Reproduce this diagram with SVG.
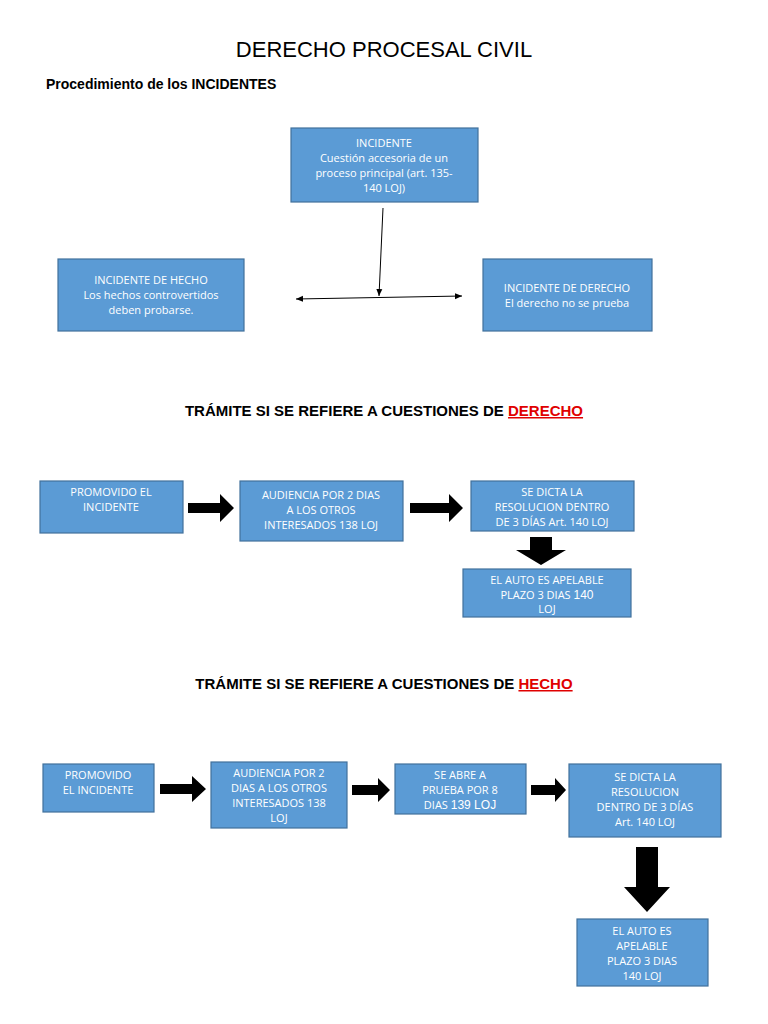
<svg xmlns="http://www.w3.org/2000/svg" width="768" height="1024" viewBox="0 0 768 1024">
<style>
.b{fill:#5b9bd5;stroke:#41719c;stroke-width:1.2}
.t{font-family:"Open Sans","Liberation Sans",sans-serif;font-size:11px;fill:#fff;text-anchor:middle}
.a{font-family:"Liberation Sans",sans-serif;font-size:12px}
.h{font-family:"Liberation Sans",sans-serif;font-size:15px;font-weight:bold;text-anchor:middle}
.ln{stroke:#000;stroke-width:1;fill:none}
.blk{fill:#000}
</style>
<defs><marker id="m" markerWidth="8" markerHeight="8" refX="7" refY="4" orient="auto-start-reverse" markerUnits="userSpaceOnUse"><path d="M0,1 L7,4 L0,7 Z" fill="#000"/></marker></defs>
<rect width="768" height="1024" fill="#fff"/>
<text x="384" y="57" font-family="Liberation Sans,sans-serif" font-size="22" text-anchor="middle">DERECHO PROCESAL CIVIL</text>
<text x="46" y="89" font-family="Liberation Sans,sans-serif" font-size="14" font-weight="bold">Procedimiento de los  INCIDENTES</text>
<g id="n1"><rect class="b" x="291" y="128" width="187" height="74"/><text class="t" x="384" y="147">INCIDENTE</text><text class="t" x="384" y="162">Cuestión accesoria de un</text><text class="t" x="384" y="177">proceso principal (art. 135-</text><text class="t" x="384" y="192">140 LOJ)</text></g>
<g id="n2"><rect class="b" x="58" y="259" width="186" height="72"/><text class="t" x="151" y="284">INCIDENTE DE HECHO</text><text class="t" x="151" y="299">Los hechos controvertidos</text><text class="t" x="151" y="314">deben probarse.</text></g>
<g id="n3"><rect class="b" x="483" y="259" width="169" height="72"/><text class="t" x="567" y="292">INCIDENTE DE DERECHO</text><text class="t" x="567" y="307">El derecho no se prueba</text></g>
<g id="connectors">
<line class="ln" x1="383" y1="208" x2="379" y2="296" marker-end="url(#m)"/>
<line class="ln" x1="296" y1="299" x2="462" y2="296" marker-start="url(#m)" marker-end="url(#m)"/>
<path class="blk" d="M188,503 h32 v-9 l14,14 l-14,14 v-9 h-32 z"/>
<path class="blk" d="M410,503 h39 v-9 l14,14 l-14,14 v-9 h-39 z"/>
<path class="blk" d="M530,537 h22 v13 h14 l-25,15 l-25,-15 h14 z"/>
<path class="blk" d="M160,784 h32 v-8 l14,13 l-14,13 v-8 h-32 z"/>
<path class="blk" d="M352,785 h26 v-7 l12,12 l-12,12 v-7 h-26 z"/>
<path class="blk" d="M531,785 h24 v-7 l11,12 l-11,12 v-7 h-24 z"/>
<path class="blk" d="M636,847 h22 v40 h12 l-23,25 l-23,-25 h12 z"/>
</g>
<text class="h" x="384" y="416">TRÁMITE SI SE REFIERE A CUESTIONES DE <tspan fill="#e00000" text-decoration="underline">DERECHO</tspan></text>
<g id="r1a"><rect class="b" x="40" y="481" width="143" height="52"/><text class="t" x="111" y="496">PROMOVIDO EL</text><text class="t" x="111" y="511">INCIDENTE</text></g>
<g id="r1b"><rect class="b" x="240" y="481" width="163" height="60"/><text class="t" x="321" y="499">AUDIENCIA POR 2 DIAS</text><text class="t" x="321" y="514">A LOS OTROS</text><text class="t" x="321" y="529">INTERESADOS 138 LOJ</text></g>
<g id="r1c"><rect class="b" x="471" y="481" width="163" height="50"/><text class="t" x="552" y="496">SE DICTA LA</text><text class="t" x="552" y="511">RESOLUCION DENTRO</text><text class="t" x="552" y="526">DE 3 DÍAS Art. 140 LOJ</text></g>
<g id="r1d"><rect class="b" x="463" y="569" width="168" height="48"/><text class="t" x="547" y="584">EL AUTO ES APELABLE</text><text class="t" x="547" y="599">PLAZO  3 DIAS  <tspan font-family="Liberation Sans,sans-serif" font-size="12">140</tspan></text><text class="t" x="547" y="613" font-family="Liberation Sans,sans-serif" font-size="12">LOJ</text></g>
<text class="h" x="384" y="689">TRÁMITE SI SE REFIERE A CUESTIONES DE <tspan fill="#e00000" text-decoration="underline">HECHO</tspan></text>
<g id="r2a"><rect class="b" x="43" y="764" width="111" height="48"/><text class="t" x="98" y="779">PROMOVIDO</text><text class="t" x="98" y="794">EL INCIDENTE</text></g>
<g id="r2b"><rect class="b" x="211" y="762" width="136" height="66"/><text class="t" x="279" y="777">AUDIENCIA POR 2</text><text class="t" x="279" y="792">DIAS A LOS OTROS</text><text class="t" x="279" y="807">INTERESADOS 138</text><text class="t" x="279" y="822">LOJ</text></g>
<g id="r2c"><rect class="b" x="395" y="764" width="131" height="50"/><text class="t" x="460" y="779">SE ABRE A</text><text class="t" x="460" y="794">PRUEBA POR 8</text><text class="t" x="460" y="809">DIAS <tspan font-family="Liberation Sans,sans-serif" font-size="12">139 LOJ</tspan></text></g>
<g id="r2d"><rect class="b" x="569" y="764" width="152" height="73"/><text class="t" x="645" y="781">SE DICTA LA</text><text class="t" x="645" y="796">RESOLUCION</text><text class="t" x="645" y="811">DENTRO DE 3 DÍAS</text><text class="t" x="645" y="826">Art. 140 LOJ</text></g>
<g id="r2e"><rect class="b" x="577" y="919" width="131" height="67"/><text class="t" x="642" y="935">EL AUTO ES</text><text class="t" x="642" y="950">APELABLE</text><text class="t" x="642" y="965">PLAZO  3 DIAS</text><text class="t" x="642" y="980" font-family="Liberation Sans,sans-serif" font-size="12">140 LOJ</text></g>
</svg>
